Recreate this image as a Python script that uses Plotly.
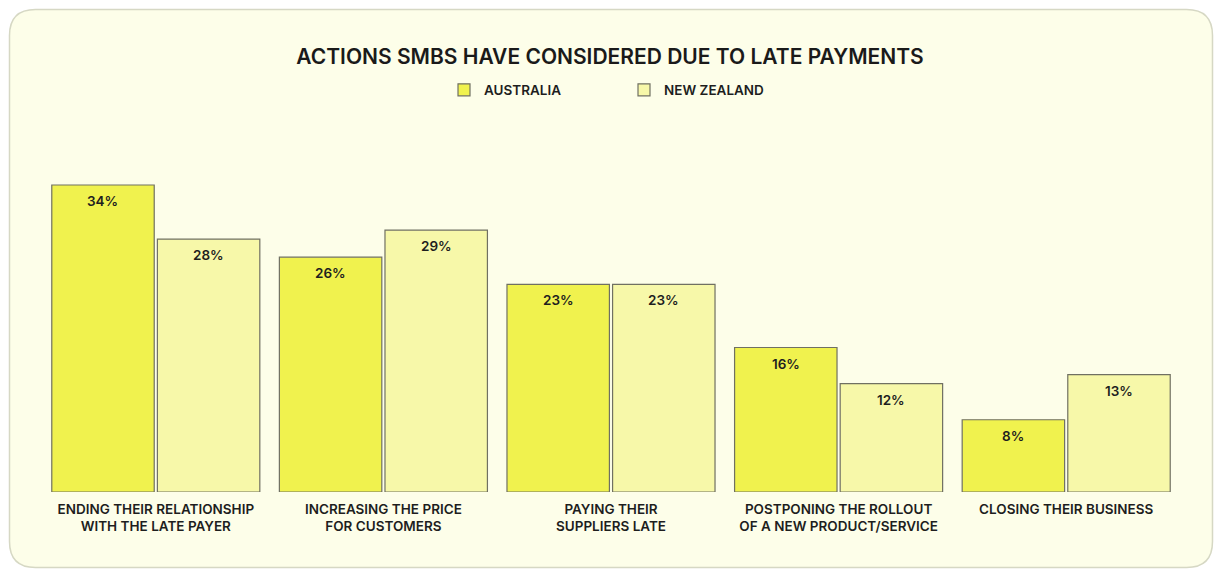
import plotly.graph_objects as go

categories = [
    "ENDING THEIR RELATIONSHIP<br>WITH THE LATE PAYER",
    "INCREASING THE PRICE<br>FOR CUSTOMERS",
    "PAYING THEIR<br>SUPPLIERS LATE",
    "POSTPONING THE ROLLOUT<br>OF A NEW PRODUCT/SERVICE",
    "CLOSING THEIR BUSINESS",
]
australia = [34, 26, 23, 16, 8]
new_zealand = [28, 29, 23, 12, 13]

W, H = 1220, 575
ML, MR, MT, MB = 42, 40, 140, 83
pw = W - ML - MR
ph = H - MT - MB

FONT = "Inter"
BG = "#FDFEE9"
BARGAP = 0.072
cat_px = pw / len(categories)
slot_px = cat_px * (1 - BARGAP) / 2

def px2paper(x, y):
    return ((x - ML) / pw, (H - MB - y) / ph)

# rounded rectangle background panel
x0, y0, x1, y1, r = 9.5, 9.5, 1212.5, 567.5, 26
def P(x, y):
    a, b = px2paper(x, y)
    return f"{a:.6f},{b:.6f}"
path = (
    f"M {P(x0 + r, y0)} L {P(x1 - r, y0)} Q {P(x1, y0)} {P(x1, y0 + r)} "
    f"L {P(x1, y1 - r)} Q {P(x1, y1)} {P(x1 - r, y1)} "
    f"L {P(x0 + r, y1)} Q {P(x0, y1)} {P(x0, y1 - r)} "
    f"L {P(x0, y0 + r)} Q {P(x0, y0)} {P(x0 + r, y0)} Z"
)

label_font = dict(family=FONT, size=13.5, color="#1e1e1e", weight=600)

fig = go.Figure()
fig.add_trace(go.Bar(
    name="AUSTRALIA", x=categories, y=australia,
    marker=dict(color="#F0F24E", line=dict(color="#707062", width=1.2)),
))
fig.add_trace(go.Bar(
    name="NEW ZEALAND", x=categories, y=new_zealand,
    marker=dict(color="#F7F8A9", line=dict(color="#707062", width=1.2)),
))

annotations = []
for series, shift in ((australia, -slot_px / 2), (new_zealand, slot_px / 2)):
    for cat, v in zip(categories, series):
        annotations.append(dict(
            x=cat, y=v, xref="x", yref="y", text=f"{v}%", showarrow=False,
            xshift=shift, yshift=-16, yanchor="middle", font=label_font,
        ))

fig.update_layout(
    width=W, height=H,
    margin=dict(l=ML, r=MR, t=MT, b=MB, pad=0),
    paper_bgcolor="white", plot_bgcolor="rgba(0,0,0,0)",
    barmode="group", bargap=BARGAP, bargroupgap=0.03,
    title=dict(
        text="ACTIONS SMBS HAVE CONSIDERED DUE TO LATE PAYMENTS",
        x=0.5, xanchor="center", y=1 - 57 / H, yanchor="middle",
        font=dict(family=FONT, size=21, color="#1a1a1a", weight=600),
    ),
    legend=dict(
        orientation="h", x=0.5 + 13 / pw, xanchor="center", y=px2paper(0, 90)[1], yanchor="middle",
        font=dict(family=FONT, size=13.5, color="#1e1e1e", weight=600),
        entrywidth=135, bgcolor="rgba(0,0,0,0)",
        itemclick=False,
    ),
    xaxis=dict(
        showgrid=False, showline=False, zeroline=False, ticks="",
        tickfont=dict(family=FONT, size=13.5, color="#1e1e1e", weight=600),
        ticklabelstandoff=7,
    ),
    yaxis=dict(
        range=[0, ph / 9.03], showgrid=False, showline=False, zeroline=False,
        showticklabels=False, ticks="",
    ),
    annotations=annotations,
    shapes=[dict(
        type="path", path=path, xref="paper", yref="paper", layer="below",
        fillcolor=BG, line=dict(color="#D6D8C4", width=1.5),
    )],
    showlegend=True,
)

fig.write_html("out.html")
